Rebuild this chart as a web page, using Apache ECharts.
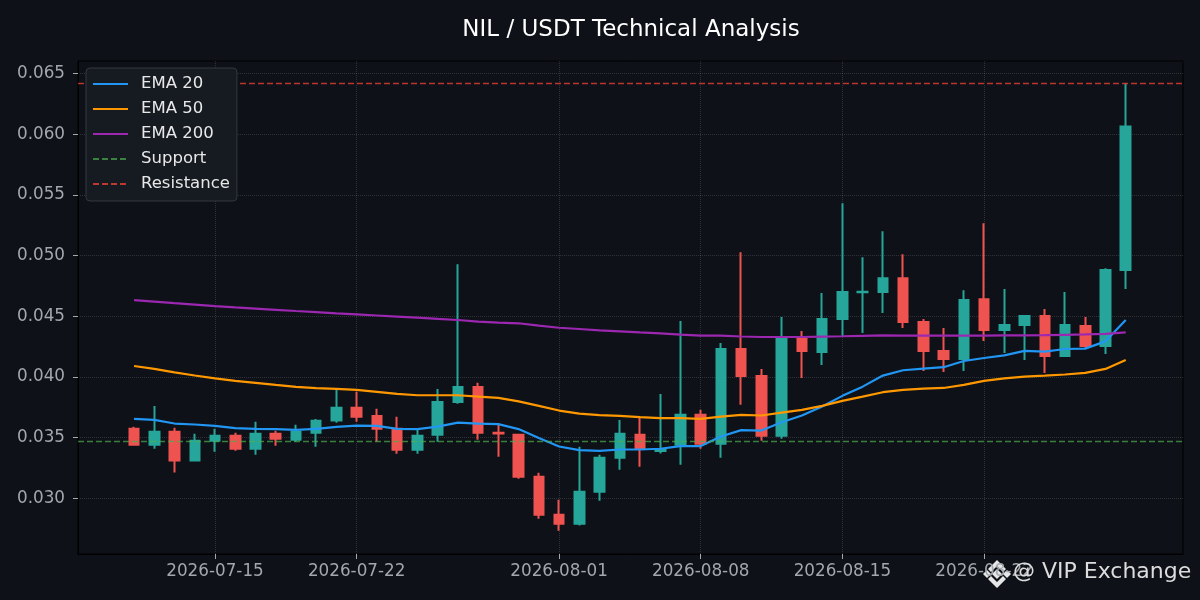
<!DOCTYPE html>
<html>
<head>
<meta charset="utf-8">
<title>NIL / USDT Technical Analysis</title>
<script src="https://cdn.jsdelivr.net/npm/echarts@6/dist/echarts.min.js"></script>
<style>
html, body { margin: 0; padding: 0; background: #0e1117; }
#main { width: 1200px; height: 600px; }
</style>
</head>
<body>
<div id="main"></div>
<script>
// daily candles
var dates = [
	'2026-07-11', '2026-07-12', '2026-07-13', '2026-07-14', '2026-07-15', '2026-07-16', '2026-07-17',
	'2026-07-18', '2026-07-19', '2026-07-20', '2026-07-21', '2026-07-22', '2026-07-23', '2026-07-24',
	'2026-07-25', '2026-07-26', '2026-07-27', '2026-07-28', '2026-07-29', '2026-07-30', '2026-07-31',
	'2026-08-01', '2026-08-02', '2026-08-03', '2026-08-04', '2026-08-05', '2026-08-06', '2026-08-07',
	'2026-08-08', '2026-08-09', '2026-08-10', '2026-08-11', '2026-08-12', '2026-08-13', '2026-08-14',
	'2026-08-15', '2026-08-16', '2026-08-17', '2026-08-18', '2026-08-19', '2026-08-20', '2026-08-21',
	'2026-08-22', '2026-08-23', '2026-08-24', '2026-08-25', '2026-08-26', '2026-08-27', '2026-08-28',
	'2026-08-29'
];
var opens = [
	0.03573, 0.03441, 0.03548, 0.03312, 0.03474, 0.03515, 0.03408, 0.03531, 0.03482, 0.03540,
	0.03641, 0.03745, 0.03679, 0.03573, 0.03400, 0.03523, 0.03794, 0.03918, 0.03540, 0.03523,
	0.03178, 0.02865, 0.02791, 0.03054, 0.03334, 0.03523, 0.03390, 0.03441, 0.03688, 0.03449,
	0.04230, 0.04008, 0.03515, 0.04312, 0.04206, 0.04477, 0.04697, 0.04699, 0.04814, 0.04452,
	0.04214, 0.04148, 0.04641, 0.04386, 0.04428, 0.04502, 0.04173, 0.04419, 0.04255, 0.04880
];
var closes = [
	0.03441, 0.03548, 0.03312, 0.03474, 0.03515, 0.03408, 0.03531, 0.03490, 0.03548, 0.03638,
	0.03745, 0.03671, 0.03573, 0.03400, 0.03515, 0.03794, 0.03918, 0.03540, 0.03533, 0.03178,
	0.02865, 0.02791, 0.03054, 0.03334, 0.03531, 0.03408, 0.03400, 0.03688, 0.03449, 0.04230,
	0.04008, 0.03515, 0.04312, 0.04214, 0.04477, 0.04699, 0.04701, 0.04814, 0.04452, 0.04214,
	0.04148, 0.04633, 0.04386, 0.04428, 0.04502, 0.04173, 0.04428, 0.04255, 0.04880, 0.06064
];
var lows = [
	0.03433, 0.03408, 0.03213, 0.03310, 0.03383, 0.03391, 0.03358, 0.03433, 0.03465, 0.03424,
	0.03622, 0.03630, 0.03465, 0.03367, 0.03367, 0.03465, 0.03778, 0.03482, 0.03342, 0.03161,
	0.02832, 0.02733, 0.02775, 0.02980, 0.03235, 0.03260, 0.03370, 0.03276, 0.03408, 0.03334,
	0.03770, 0.03474, 0.03490, 0.03992, 0.04099, 0.04337, 0.04362, 0.04526, 0.04403, 0.04049,
	0.04040, 0.04049, 0.04296, 0.04197, 0.04140, 0.04033, 0.04164, 0.04238, 0.04189, 0.04724
];
var highs = [
	0.03589, 0.03761, 0.03581, 0.03531, 0.03573, 0.03540, 0.03630, 0.03556, 0.03605, 0.03654,
	0.03893, 0.03877, 0.03737, 0.03671, 0.03564, 0.03901, 0.04929, 0.03951, 0.03605, 0.03523,
	0.03210, 0.02988, 0.03424, 0.03358, 0.03646, 0.03663, 0.03860, 0.04461, 0.03729, 0.04280,
	0.05028, 0.04066, 0.04493, 0.04378, 0.04691, 0.05431, 0.04987, 0.05201, 0.05011, 0.04477,
	0.04403, 0.04715, 0.05266, 0.04724, 0.04510, 0.04559, 0.04699, 0.04493, 0.04896, 0.06418
];
// moving averages
var ema20 = [
	0.03654, 0.03646, 0.03616, 0.03608, 0.03597, 0.03578, 0.03572, 0.03570, 0.03564, 0.03572,
	0.03589, 0.03599, 0.03597, 0.03572, 0.03570, 0.03591, 0.03624, 0.03616, 0.03611, 0.03570,
	0.03496, 0.03427, 0.03397, 0.03391, 0.03402, 0.03402, 0.03408, 0.03430, 0.03430, 0.03509,
	0.03562, 0.03558, 0.03627, 0.03682, 0.03756, 0.03844, 0.03920, 0.04011, 0.04055, 0.04068,
	0.04080, 0.04131, 0.04156, 0.04178, 0.04214, 0.04208, 0.04230, 0.04233, 0.04293, 0.04469
];
var ema50 = [
	0.04090, 0.04066, 0.04037, 0.04012, 0.03988, 0.03967, 0.03951, 0.03934, 0.03918, 0.03907,
	0.03901, 0.03893, 0.03877, 0.03860, 0.03849, 0.03849, 0.03849, 0.03838, 0.03827, 0.03798,
	0.03761, 0.03723, 0.03698, 0.03685, 0.03679, 0.03668, 0.03660, 0.03660, 0.03654, 0.03673,
	0.03687, 0.03682, 0.03706, 0.03729, 0.03761, 0.03803, 0.03838, 0.03874, 0.03893, 0.03904,
	0.03909, 0.03934, 0.03967, 0.03988, 0.04002, 0.04010, 0.04020, 0.04033, 0.04066, 0.04140
];
var ema200 = [
	0.04633, 0.04621, 0.04608, 0.04596, 0.04584, 0.04573, 0.04563, 0.04553, 0.04543, 0.04534,
	0.04524, 0.04515, 0.04506, 0.04497, 0.04488, 0.04478, 0.04469, 0.04456, 0.04448, 0.04442,
	0.04423, 0.04405, 0.04395, 0.04384, 0.04376, 0.04367, 0.04359, 0.04349, 0.04340, 0.04340,
	0.04333, 0.04329, 0.04329, 0.04329, 0.04332, 0.04335, 0.04339, 0.04343, 0.04341, 0.04340,
	0.04340, 0.04340, 0.04341, 0.04342, 0.04343, 0.04344, 0.04347, 0.04350, 0.04354, 0.04367
];
var support = 0.03468;
var resistance = 0.06418;
var xTickDates = ['2026-07-15', '2026-07-22', '2026-08-01', '2026-08-08', '2026-08-15', '2026-08-22'];
var yTicks = [0.030, 0.035, 0.040, 0.045, 0.050, 0.055, 0.060, 0.065];

var DAY = 24 * 3600 * 1000;
function ts(s) {
	var p = s.split('-');
	return new Date(+p[0], +p[1] - 1, +p[2]).getTime();
}
function pad(n) { return n < 10 ? '0' + n : '' + n; }

var times = dates.map(ts);
var xMin = times[0] - 2.77 * DAY;
var xMax = times[times.length - 1] + 2.83 * DAY;

var candles = times.map(function(t, i) {
	return [t, opens[i], closes[i], lows[i], highs[i]];
});
function pair(arr) {
	return times.map(function(t, i) { return [t, arr[i]]; });
}

var labelColor = '#a3a8ae';
var gridColor = 'rgba(255,255,255,0.14)';
var fontFam = 'DejaVu Sans';

var myChart = echarts.init(document.getElementById('main'));

var option = {
	backgroundColor: '#0e1117',
	animation: false,
	title: {
		text: 'NIL / USDT Technical Analysis',
		left: 626,
		textAlign: 'center',
		top: 14,
		textStyle: { color: '#ffffff', fontSize: 23, fontWeight: 'normal', fontFamily: fontFam }
	},
	legend: {
		orient: 'vertical',
		left: 86,
		top: 68,
		padding: [6, 7, 7, 6],
		itemGap: 5,
		itemWidth: 35,
		itemHeight: 14,
		itemStyle: { opacity: 0 },
		backgroundColor: '#161a21',
		borderColor: '#343940',
		borderWidth: 1,
		borderRadius: 4,
		data: ['EMA 20', 'EMA 50', 'EMA 200', 'Support', 'Resistance'],
		textStyle: { color: '#e8e8e8', fontSize: 16.5, fontFamily: fontFam, lineHeight: 20, padding: [0, 0, 0, 8] }
	},
	grid: {
		left: 78, right: 17, top: 61, bottom: 46,
		show: true,
		borderColor: '#000000',
		borderWidth: 1
	},
	xAxis: {
		type: 'value',
		min: xMin,
		max: xMax,
		axisLine: { show: true, onZero: false, lineStyle: { color: '#000000' } },
		axisTick: {
			show: true, length: 5, lineStyle: { color: labelColor },
			customValues: xTickDates.map(ts)
		},
		axisLabel: {
			color: labelColor, fontSize: 16.8, fontFamily: fontFam, margin: 9,
			customValues: xTickDates.map(ts),
			formatter: function(v) {
				var d = new Date(v);
				return d.getFullYear() + '-' + pad(d.getMonth() + 1) + '-' + pad(d.getDate());
			}
		},
		splitLine: { show: true, lineStyle: { color: gridColor, type: 'dotted' } }
	},
	yAxis: {
		type: 'value',
		min: 0.02541,
		max: 0.06603,
		axisLine: { show: true, lineStyle: { color: '#000000' } },
		axisTick: { show: true, length: 5, lineStyle: { color: labelColor }, customValues: yTicks },
		axisLabel: {
			color: labelColor, fontSize: 16.8, fontFamily: fontFam, margin: 13,
			customValues: yTicks,
			formatter: function(v) { return v.toFixed(3); }
		},
		splitLine: { show: true, lineStyle: { color: gridColor, type: 'dotted' } }
	},
	series: [{
		name: 'NIL/USDT',
		type: 'candlestick',
		barWidth: 10,
		encode: { x: 0, y: [1, 2, 3, 4] },
		itemStyle: {
			color: '#26a69a', color0: '#ef5350',
			borderColor: '#26a69a', borderColor0: '#ef5350',
			borderWidth: 2
		},
		data: candles
	}, {
		name: 'EMA 20',
		type: 'line',
		symbol: 'none',
		color: '#2196f3',
		lineStyle: { width: 2.2, color: '#2196f3' },
		data: pair(ema20)
	}, {
		name: 'EMA 50',
		type: 'line',
		symbol: 'none',
		color: '#ff9800',
		lineStyle: { width: 2.2, color: '#ff9800' },
		data: pair(ema50)
	}, {
		name: 'EMA 200',
		type: 'line',
		symbol: 'none',
		color: '#9c27b0',
		lineStyle: { width: 2.2, color: '#9c27b0' },
		data: pair(ema200)
	}, {
		name: 'Support',
		type: 'line',
		symbol: 'none',
		color: 'rgba(76,175,80,0.7)',
		lineStyle: { width: 1.6, type: [6, 3], color: 'rgba(76,175,80,0.7)' },
		data: [[xMin, support], [xMax, support]]
	}, {
		name: 'Resistance',
		type: 'line',
		symbol: 'none',
		color: 'rgba(244,67,54,0.75)',
		lineStyle: { width: 1.6, type: [6, 3], color: 'rgba(244,67,54,0.75)' },
		data: [[xMin, resistance], [xMax, resistance]]
	}],
	graphic: [{
		type: 'group',
		left: 983,
		top: 560,
		z: 100,
		children: [
			{ type: 'polygon', shape: { points: [[14, 9], [19, 14], [14, 19], [9, 14]] }, style: { fill: '#e6e6e6' } },
			{ type: 'polygon', shape: { points: [[4, 10], [8, 14], [4, 18], [0, 14]] }, style: { fill: '#e6e6e6' } },
			{ type: 'polygon', shape: { points: [[24, 10], [28, 14], [24, 18], [20, 14]] }, style: { fill: '#e6e6e6' } },
			{ type: 'polygon', shape: { points: [[14, 0], [23, 9], [20, 12], [14, 6], [8, 12], [5, 9]] }, style: { fill: '#e6e6e6' } },
			{ type: 'polygon', shape: { points: [[14, 28], [23, 19], [20, 16], [14, 22], [8, 16], [5, 19]] }, style: { fill: '#e6e6e6' } }
		]
	}, {
		type: 'text',
		left: 1013,
		top: 561,
		z: 100,
		style: { text: '@ VIP Exchange', fill: '#dcdcdc', font: '22px "DejaVu Sans"' }
	}]
};

myChart.setOption(option);
</script>
</body>
</html>
